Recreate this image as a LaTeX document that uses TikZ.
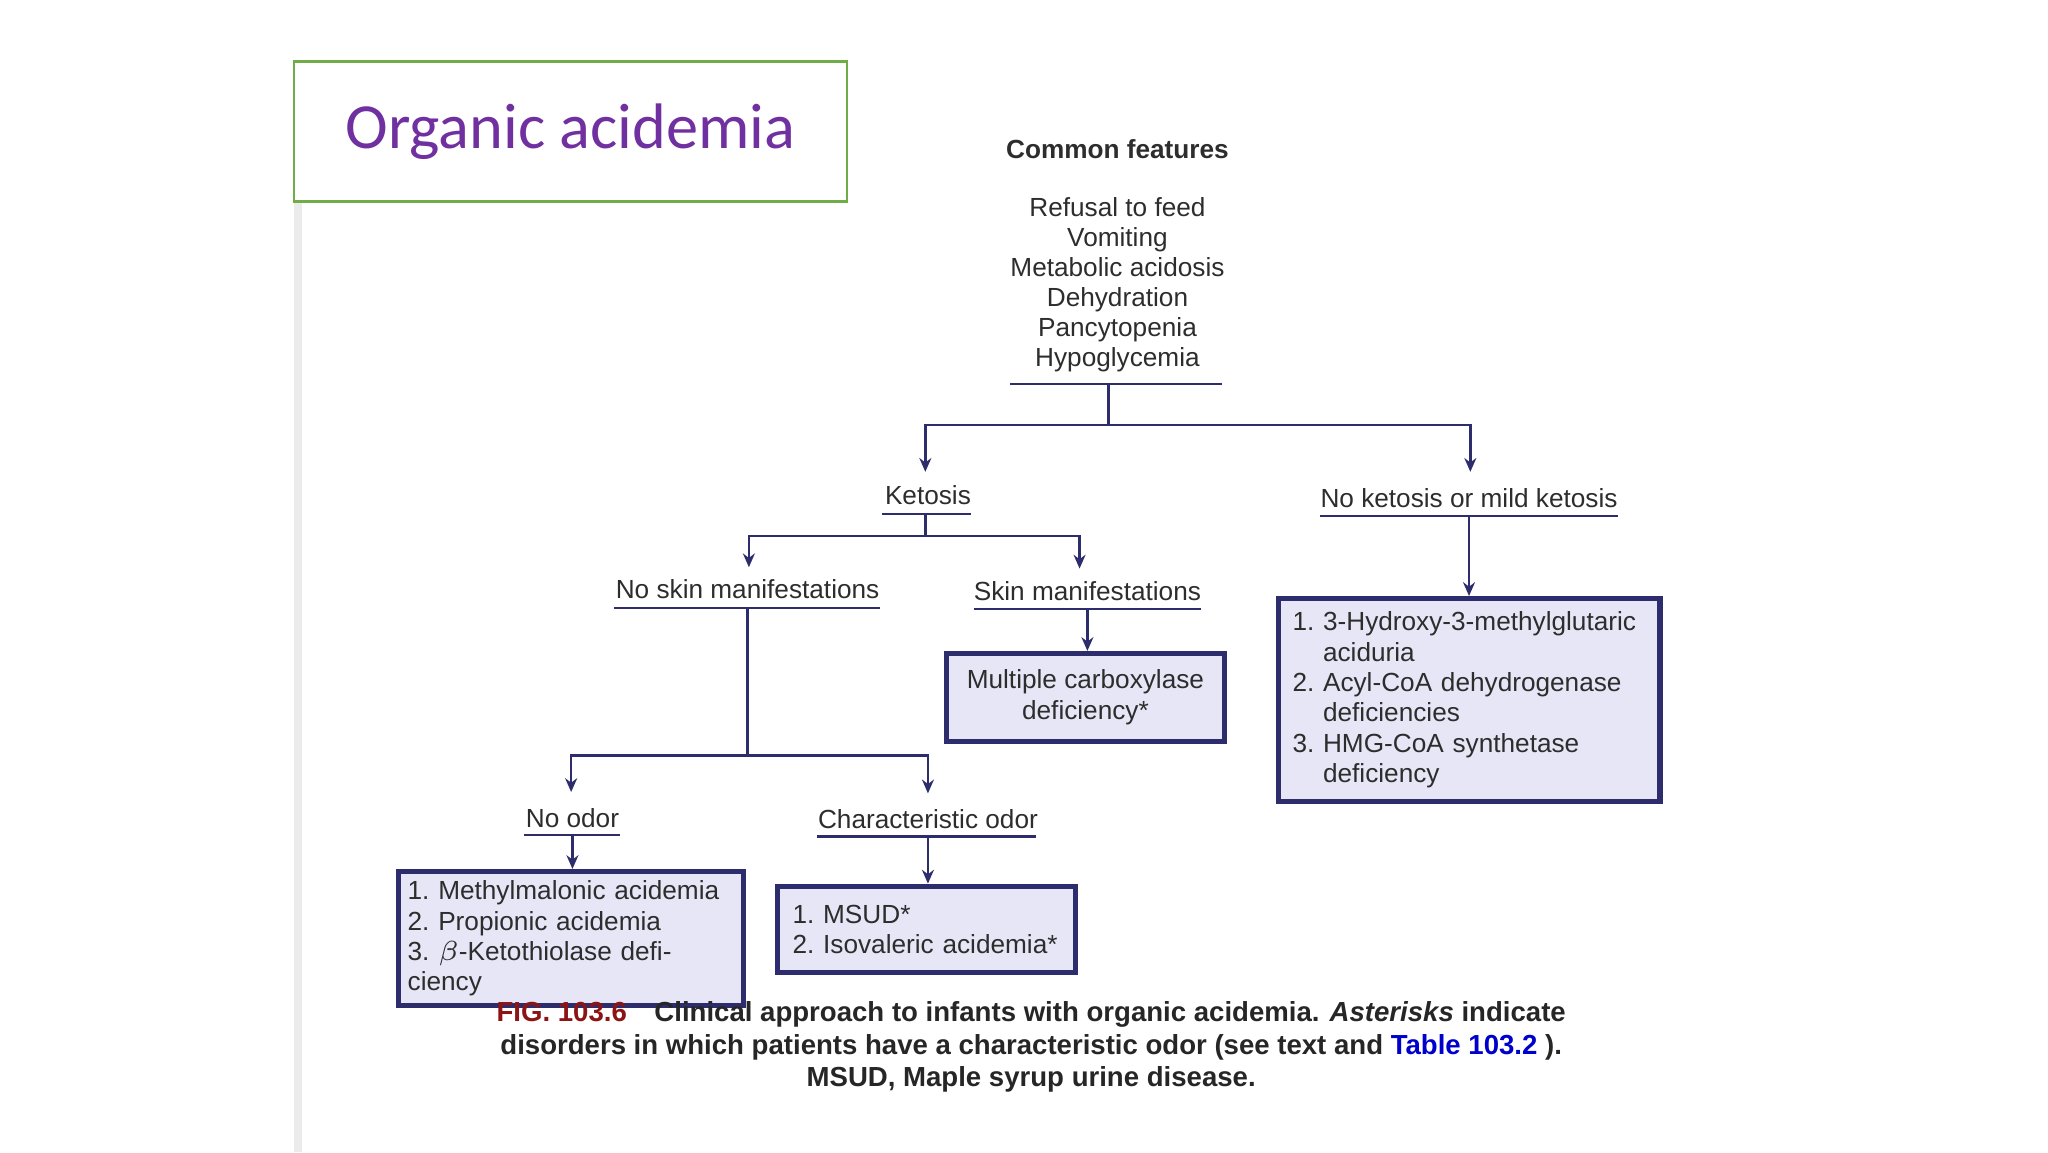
\documentclass[tikz,border=0pt]{standalone}
\usepackage{fontspec}
\setmainfont{Liberation Sans}
\newfontfamily\titlefont{Carlito}
\usetikzlibrary{arrows.meta}
\definecolor{navy}{RGB}{45,45,110}
\definecolor{lav}{RGB}{230,230,246}
\definecolor{txt}{RGB}{45,45,45}
\definecolor{ttl}{RGB}{112,48,160}
\definecolor{grn}{RGB}{112,173,71}
\definecolor{figred}{RGB}{140,20,20}
\tikzset{
  lbl/.style={font=\fontsize{5.7}{6.6}\selectfont, text=txt, inner sep=1pt, align=center},
  ul/.style={draw=navy, line width=0.5pt},
  conn/.style={draw=navy, line width=0.55pt},
  arr/.style={conn, -{Stealth[length=3pt,width=2.6pt]}},
  box/.style={draw=navy, fill=lav, line width=1.1pt, font=\fontsize{5.7}{6.6}\selectfont, text=txt, inner sep=2pt},
}
\begin{document}
\begin{tikzpicture}[x=0.01cm,y=-0.01cm]
\useasboundingbox (0,0) rectangle (1567,881.7);
% slide decorations
\fill[black!8] (225,154) rectangle (231,881.7);
\node[draw=grn, line width=0.6pt, minimum width=4.23cm, minimum height=1.07cm, inner sep=0pt,
  font=\titlefont\fontsize{14}{16}\selectfont, text=ttl] (title) at (436.5,100.5) {Organic acidemia};
% header
\node[lbl, font=\bfseries\fontsize{5.7}{6.6}\selectfont] (common) at (855,114) {Common features};
\node[lbl, font=\fontsize{5.7}{6.55}\selectfont] (feat) at (855,218)
  {Refusal to feed\\Vomiting\\Metabolic acidosis\\Dehydration\\Pancytopenia\\Hypoglycemia};
\draw[ul] (773,294) -- (935,294);
\coordinate (f0) at (848,294);
\coordinate (j1) at (848,325);
% level 1
\node[lbl] (ket) at (710,379) {Ketosis};
\draw[ul] (675,393) -- (743,393);
\node[lbl] (noket) at (1124,381) {No ketosis or mild ketosis};
\draw[ul] (1010,395) -- (1238,395);
\draw[conn] (f0) -- (j1);
\draw[arr] (j1) -- (708,325) -- (708,361);
\draw[arr] (j1) -- (1125,325) -- (1125,361);
% level 2
\coordinate (k0) at (708,393);
\coordinate (j2) at (708,410);
\node[lbl] (noskin) at (572,451) {No skin manifestations};
\draw[ul] (470,465) -- (673,465);
\node[lbl] (skin) at (832,452) {Skin manifestations};
\draw[ul] (745,466) -- (919,466);
\draw[conn] (k0) -- (j2);
\draw[arr] (j2) -- (573,410) -- (573,434);
\draw[arr] (j2) -- (826,410) -- (826,435);
% boxes right
\node[box, minimum width=2.13cm, minimum height=0.67cm, align=center] (mcd) at (830.5,533.5)
  {Multiple carboxylase\\deficiency*};
\draw[arr] (832,466) -- (mcd.north -| 832,0);
\node[box, minimum width=2.92cm, minimum height=1.55cm, text width=2.7cm, align=left] (hmg) at (1124,535.5)
  {1.\ 3-Hydroxy-3-methylglutaric\\\phantom{1.\ }aciduria\\
   2.\ Acyl-CoA dehydrogenase\\\phantom{1.\ }deficiencies\\
   3.\ HMG-CoA synthetase\\\phantom{1.\ }deficiency};
\draw[arr] (1124,395) -- (hmg.north);
% level 3
\coordinate (s0) at (572,465);
\coordinate (j3) at (572,578);
\draw[conn] (s0) -- (j3);
\draw[arr] (j3) -- (437,578) -- (437,606);
\draw[arr] (j3) -- (710,578) -- (710,607);
\node[lbl] (noodor) at (438,626) {No odor};
\draw[ul] (401,639) -- (474,639);
\node[lbl] (odor) at (710,627) {Characteristic odor};
\draw[ul] (625,640) -- (793,640);
\node[box, minimum width=2.58cm, minimum height=0.86cm, text width=2.5cm, align=left] (mma) at (437,718)
  {1.\ Methylmalonic acidemia\\2.\ Propionic acidemia\\3.\ $\beta$-Ketothiolase deficiency};
\node[box, minimum width=2.28cm, minimum height=0.66cm, text width=2.05cm, align=left] (msud) at (709,711)
  {1.\ MSUD*\\2.\ Isovaleric acidemia*};
\draw[arr] (438,640) -- (mma.north -| 438,0);
\draw[arr] (710,640) -- (msud.north -| 710,0);
% caption
\node[lbl, font=\bfseries\fontsize{6}{7.1}\selectfont, text=black!85] (cap) at (789,801)
  {\textcolor{figred}{FIG. 103.6}\quad Clinical approach to infants with organic acidemia. \textit{Asterisks} indicate\\
   disorders in which patients have a characteristic odor (see text and \textcolor{blue!80!black}{Table 103.2} ).\\
   MSUD, Maple syrup urine disease.};
\end{tikzpicture}
\end{document}
